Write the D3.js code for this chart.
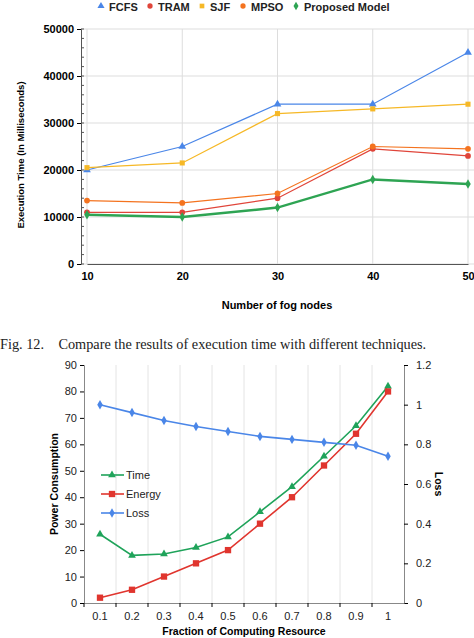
<!DOCTYPE html><html><head><meta charset="utf-8"><script src="https://cdn.jsdelivr.net/npm/d3@7"></script>
<style>body{margin:0;background:#fff}text{font-family:"Liberation Sans",Arial,sans-serif}</style></head><body>
<svg id="c" width="474" height="638"></svg>
<script>
const nodes=[10,20,30,40,50];
const fcfs=[20000,25000,34000,34000,45000];
const tram=[11000,11000,14000,24500,23000];
const sjf=[20500,21500,32000,33000,34000];
const mpso=[13500,13000,15000,25000,24500];
const proposed=[10500,10000,12000,18000,17000];
const topTicks=[0,10000,20000,30000,40000,50000];
const fractions=["0.1","0.2","0.3","0.4","0.5","0.6","0.7","0.8","0.9","1"];
const timeV=[26,18,18.5,21,25,34.5,44,55.5,67,82];
const energyV=[2,5,10,15,20,30,40,52,64,80];
const lossV=[1.0,0.96,0.92,0.89,0.865,0.84,0.825,0.81,0.795,0.74];
const svg=d3.select("#c");
const x1=d3.scaleLinear().domain([10,50]).range([87,468]);
const y1=d3.scaleLinear().domain([0,50000]).range([264,29]);
const g1=svg.append("g");
g1.selectAll(".hg").data(topTicks).join("line").attr("x1",81).attr("x2",474).attr("y1",d=>y1(d)).attr("y2",d=>y1(d)).attr("stroke","#ddd");
g1.selectAll(".vg").data(nodes).join("line").attr("x1",d=>x1(d)).attr("x2",d=>x1(d)).attr("y1",29).attr("y2",264).attr("stroke","#ddd");
const ya=g1.append("g").attr("transform","translate(81,0)").call(d3.axisLeft(y1).tickValues(topTicks).tickSize(4).tickFormat(d3.format("d")));
ya.selectAll("text").attr("font-size",11).attr("font-weight","bold");
ya.append("g").selectAll("line").data(d3.range(0,50001,2000)).join("line").attr("x1",0).attr("x2",3).attr("y1",d=>y1(d)).attr("y2",d=>y1(d)).attr("stroke","#555");
ya.select(".domain").attr("stroke","#555");
const xa=g1.append("g").attr("transform","translate(0,264)").call(d3.axisBottom(x1).tickValues(nodes).tickSize(0).tickPadding(8));
xa.selectAll("text").attr("font-size",11).attr("font-weight","bold").attr("fill","#000");
xa.select(".domain").attr("stroke","#555");
g1.append("text").attr("transform","translate(24,155) rotate(-90)").attr("text-anchor","middle").attr("font-size",9.5).attr("font-weight","bold").text("Execution Time (In Milliseconds)");
g1.append("text").attr("x",277).attr("y",309).attr("text-anchor","middle").attr("font-size",11).attr("font-weight","bold").text("Number of fog nodes");
const series=[["FCFS",fcfs,"#4a86e8",d3.symbolTriangle,1.2],["TRAM",tram,"#e0453a",d3.symbolCircle,1.2],["SJF",sjf,"#f6b826",d3.symbolSquare,1.2],["MPSO",mpso,"#f4731f",d3.symbolCircle,1.2],["Proposed Model",proposed,"#2ea453",d3.symbolDiamond,2.5]];
const ln=d3.line().x((d,i)=>x1(nodes[i])).y(d=>y1(d));
series.forEach(s=>{
 g1.append("path").attr("d",ln(s[1])).attr("fill","none").attr("stroke",s[2]).attr("stroke-width",s[4]);
 g1.selectAll(null).data(s[1]).join("path").attr("d",d3.symbol(s[3],26)).attr("transform",(d,i)=>`translate(${x1(nodes[i])},${y1(d)})`).attr("fill",s[2]);
});
const legX=[101,150,202,243,296];
series.forEach((s,i)=>{
 g1.append("path").attr("d",d3.symbol(s[3],22)).attr("transform",`translate(${legX[i]},6)`).attr("fill",s[2]);
 g1.append("text").attr("x",legX[i]+8).attr("y",11).attr("font-size",11).attr("font-weight","bold").attr("fill","#222").text(s[0]);
});
svg.append("text").attr("x",0).attr("y",349).attr("font-size",14.3).attr("fill","#222").attr("style","font-family:'Liberation Serif',serif").text("Fig. 12.\u00a0\u00a0\u00a0\u00a0Compare the results of execution time with different techniques.");
const x2=d3.scaleBand().domain(fractions).range([84,404]);
const yL=d3.scaleLinear().domain([0,90]).range([603,365]);
const yR=d3.scaleLinear().domain([0,1.2]).range([603,365]);
const g2=svg.append("g");
g2.selectAll(".vg").data(fractions.slice(1)).join("line").attr("x1",d=>x2(d)).attr("x2",d=>x2(d)).attr("y1",365).attr("y2",603).attr("stroke","#e4e4e4");
const la=g2.append("g").attr("transform","translate(84,0)").call(d3.axisLeft(yL).ticks(9).tickSize(4));
la.selectAll("text").attr("font-size",11).attr("fill","#222");
const ra=g2.append("g").attr("transform","translate(404,0)").call(d3.axisRight(yR).tickValues([0,0.2,0.4,0.6,0.8,1,1.2]).tickSize(4).tickFormat(d=>d==1?"1":d==0?"0":d3.format(".1f")(d)).tickPadding(8));
ra.selectAll("text").attr("font-size",11).attr("fill","#222");
const ba=g2.append("g").attr("transform","translate(0,603)").call(d3.axisBottom(x2).tickSize(0).tickPadding(9));
ba.selectAll("text").attr("font-size",11).attr("fill","#222");
g2.selectAll(".bt").data(fractions).join("line").attr("x1",d=>x2(d)).attr("x2",d=>x2(d)).attr("y1",603).attr("y2",607).attr("stroke","#000");
[la,ra,ba].forEach(a=>a.select(".domain").attr("stroke","#888"));
g2.append("text").attr("transform","translate(58,484) rotate(-90)").attr("text-anchor","middle").attr("font-size",10.5).attr("font-weight","bold").text("Power Consumption");
g2.append("text").attr("transform","translate(435,484) rotate(90)").attr("text-anchor","middle").attr("font-size",10.5).attr("font-weight","bold").text("Loss");
g2.append("text").attr("x",244).attr("y",635).attr("text-anchor","middle").attr("font-size",10.5).attr("font-weight","bold").text("Fraction of Computing Resource");
const cx=d=>x2(d)+x2.bandwidth()/2;
const s2=[["Time",timeV,yL,"#1fa35a",d3.symbolTriangle,26],["Energy",energyV,yL,"#e0352e",d3.symbolSquare,40],["Loss",lossV,yR,"#4a86e8",d3.symbolDiamond,26]];
s2.forEach((s,k)=>{
 const l=d3.line().x((d,i)=>cx(fractions[i])).y(d=>s[2](d));
 g2.append("path").attr("d",l(s[1])).attr("fill","none").attr("stroke",s[3]).attr("stroke-width",1.6);
 g2.selectAll(null).data(s[1]).join("path").attr("d",d3.symbol(s[4],s[5])).attr("transform",(d,i)=>`translate(${cx(fractions[i])},${s[2](d)})`).attr("fill",s[3]);
 const ly=475+k*19;
 g2.append("line").attr("x1",101).attr("x2",124).attr("y1",ly).attr("y2",ly).attr("stroke",s[3]).attr("stroke-width",1.6);
 g2.append("path").attr("d",d3.symbol(s[4],s[5])).attr("transform",`translate(112,${ly})`).attr("fill",s[3]);
 g2.append("text").attr("x",126).attr("y",ly+4).attr("font-size",11).attr("fill","#222").text(s[0]);
});
</script></body></html>
